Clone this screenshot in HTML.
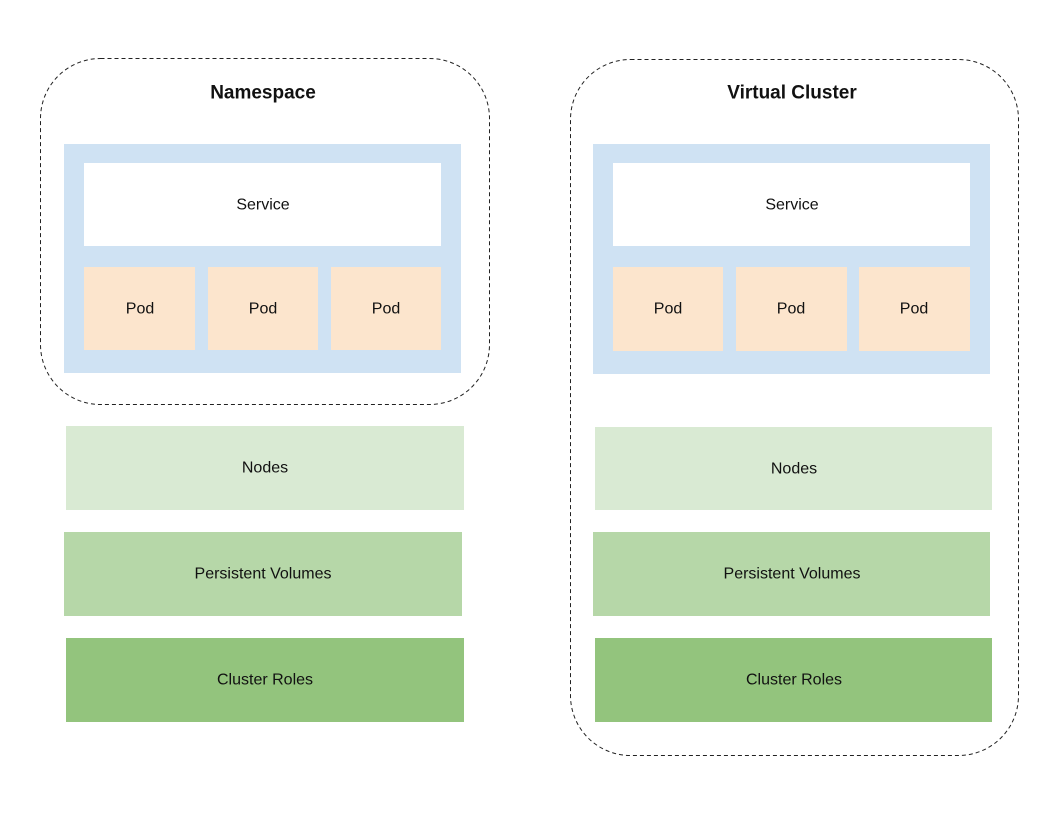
<!DOCTYPE html>
<html><head><meta charset="utf-8"><style>
html,body{margin:0;padding:0;background:#fff;}
svg{display:block;}
text{font-family:"Liberation Sans",sans-serif;fill:#111;text-anchor:middle;dominant-baseline:central;font-size:16px;}
.t{font-weight:bold;font-size:19px;}
</style></head><body>
<svg width="1059" height="814" viewBox="0 0 1059 814" xmlns="http://www.w3.org/2000/svg">
<!-- Left -->
<rect x="40.5" y="58.5" width="449" height="346" rx="60" fill="none" stroke="#222" stroke-dasharray="4,3"/>
<text class="t" x="263" y="93">Namespace</text>
<rect x="64" y="144" width="397" height="229" fill="#cfe2f3"/>
<rect x="84" y="163" width="357" height="83" fill="#fff"/>
<text x="263" y="205">Service</text>
<rect x="84" y="267" width="111" height="83" fill="#fce5cd"/>
<rect x="208" y="267" width="110" height="83" fill="#fce5cd"/>
<rect x="331" y="267" width="110" height="83" fill="#fce5cd"/>
<text x="140" y="309">Pod</text><text x="263" y="309">Pod</text><text x="386" y="309">Pod</text>
<rect x="66" y="426" width="398" height="84" fill="#d9ead3"/>
<text x="265" y="468">Nodes</text>
<rect x="64" y="532" width="398" height="84" fill="#b6d7a8"/>
<text x="263" y="574">Persistent Volumes</text>
<rect x="66" y="638" width="398" height="84" fill="#93c47d"/>
<text x="265" y="680">Cluster Roles</text>
<!-- Right -->
<rect x="570.5" y="59.5" width="448" height="696" rx="60" fill="none" stroke="#222" stroke-dasharray="4,3"/>
<text class="t" x="792" y="93">Virtual Cluster</text>
<rect x="593" y="144" width="397" height="230" fill="#cfe2f3"/>
<rect x="613" y="163" width="357" height="83" fill="#fff"/>
<text x="792" y="205">Service</text>
<rect x="613" y="267" width="110" height="84" fill="#fce5cd"/>
<rect x="736" y="267" width="111" height="84" fill="#fce5cd"/>
<rect x="859" y="267" width="111" height="84" fill="#fce5cd"/>
<text x="668" y="309">Pod</text><text x="791" y="309">Pod</text><text x="914" y="309">Pod</text>
<rect x="595" y="427" width="397" height="83" fill="#d9ead3"/>
<text x="794" y="469">Nodes</text>
<rect x="593" y="532" width="397" height="84" fill="#b6d7a8"/>
<text x="792" y="574">Persistent Volumes</text>
<rect x="595" y="638" width="397" height="84" fill="#93c47d"/>
<text x="794" y="680">Cluster Roles</text>
</svg>
</body></html>
